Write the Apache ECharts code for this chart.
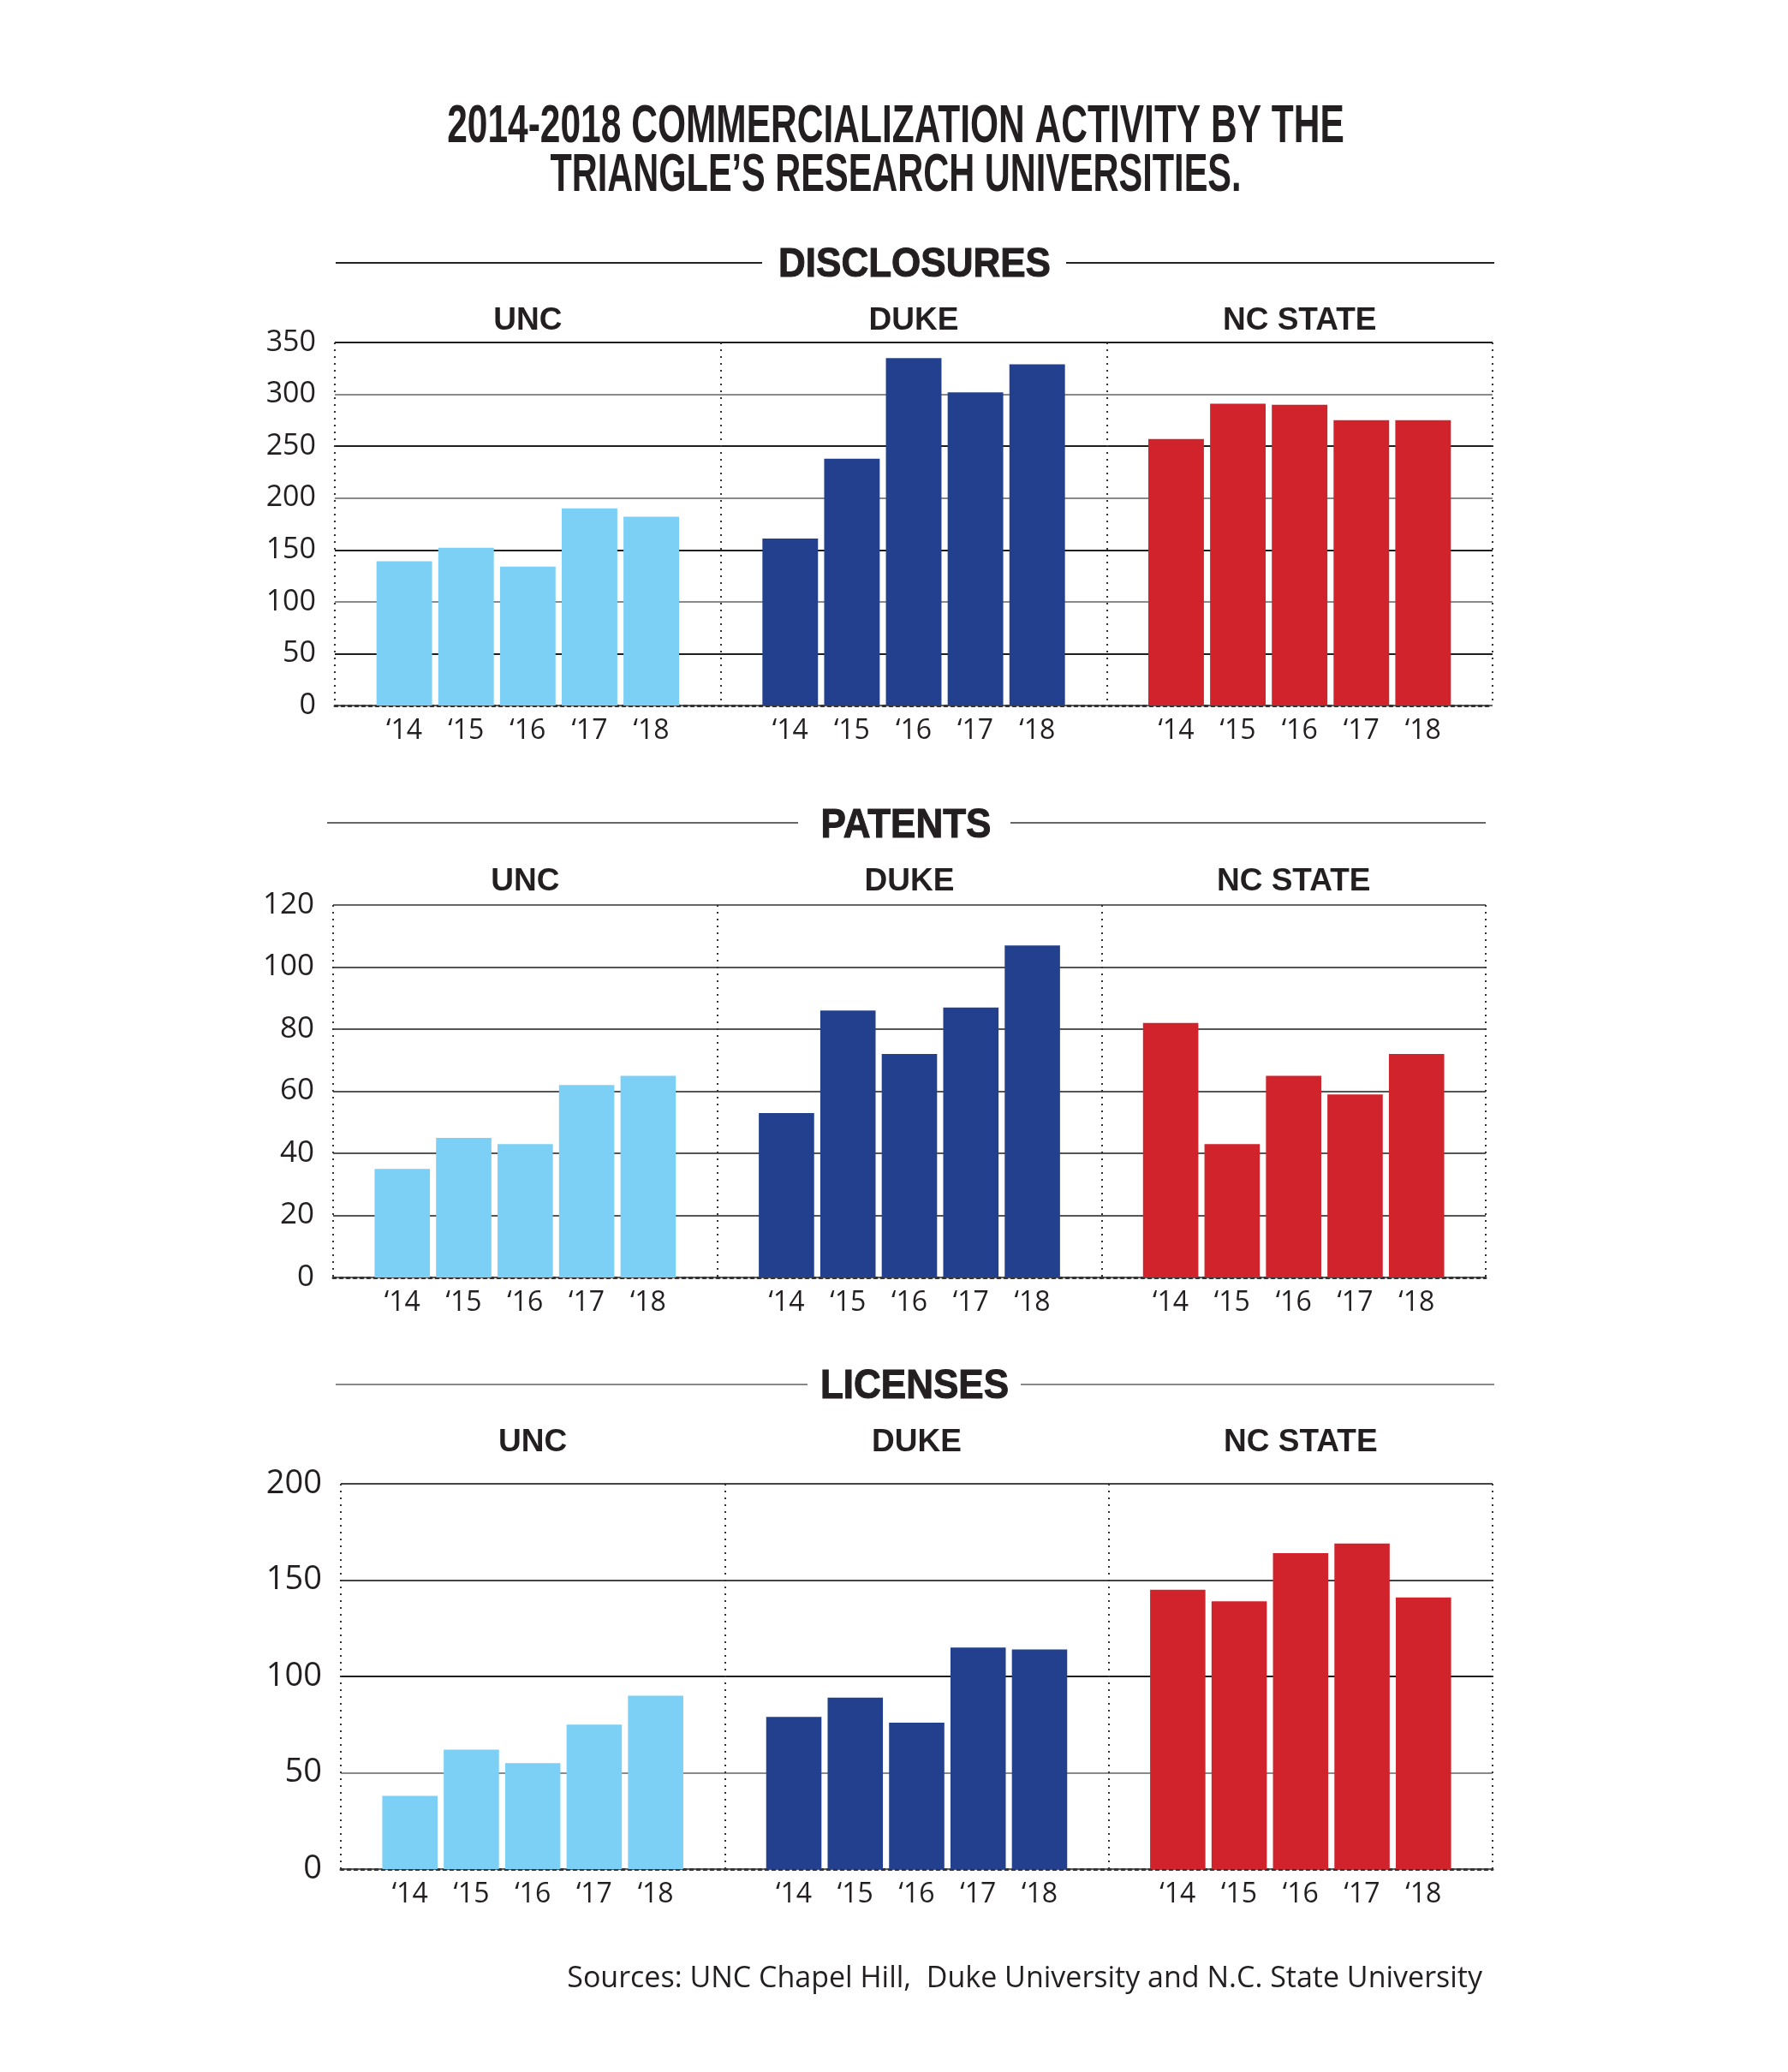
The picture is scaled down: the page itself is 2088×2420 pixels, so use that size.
<!DOCTYPE html>
<html>
<head>
<meta charset="utf-8">
<script src="https://cdn.jsdelivr.net/npm/echarts@6/dist/echarts.min.js"></script>
<style>
html,body{margin:0;padding:0;background:#fff;}
#chart{width:2088px;height:2420px;}
</style>
</head>
<body>
<div id="chart"></div>
<script>
// ---- Data ----
const years = ['\u201814', '\u201815', '\u201816', '\u201817', '\u201818'];
const universities = ['UNC', 'DUKE', 'NC STATE'];
const sections = ['DISCLOSURES', 'PATENTS', 'LICENSES'];

const disclosuresUNC = [139, 152, 134, 190, 182];
const disclosuresDuke = [161, 238, 335, 302, 329];
const disclosuresNCState = [257, 291, 290, 275, 275];

const patentsUNC = [35, 45, 43, 62, 65];
const patentsDuke = [53, 86, 72, 87, 107];
const patentsNCState = [82, 43, 65, 59, 72];

const licensesUNC = [38, 62, 55, 75, 90];
const licensesDuke = [79, 89, 76, 115, 114];
const licensesNCState = [145, 139, 164, 169, 141];

const disclosuresAxis = {max: 350, interval: 50};
const patentsAxis = {max: 120, interval: 20};
const licensesAxis = {max: 200, interval: 50};

const titleLines = ['2014-2018 COMMERCIALIZATION ACTIVITY BY THE', 'TRIANGLE\u2019S RESEARCH UNIVERSITIES.'];
const sourceText = 'Sources: UNC Chapel Hill,  Duke University and N.C. State University';

// ---- Layout / style ----
const uniColors = ['#7CD0F5', '#22408D', '#D1232B'];
const textColor = '#231f20';
const tickFont = 'Open Sans';
const headFont = 'Liberation Sans';

const charts = [
  {name: sections[0], data: [disclosuresUNC, disclosuresDuke, disclosuresNCState], axis: disclosuresAxis,
   left: 391, right: 1743, top: 400, bottom: 824, headY: 310, lineY: 307, lineL: 392, lineR: 1745,
   gapL: 890, gapR: 1245, headX: 1068, lineColor: '#222', subY: 375, yFont: 34,
   split: ['#666', '#1e1e1e', '#8a8a8a', '#1e1e1e', '#8a8a8a', '#1e1e1e', '#8a8a8a', '#1e1e1e']},
  {name: sections[1], data: [patentsUNC, patentsDuke, patentsNCState], axis: patentsAxis,
   left: 389, right: 1735, top: 1057, bottom: 1492, headY: 965, lineY: 961, lineL: 382, lineR: 1735,
   gapL: 932, gapR: 1180, headX: 1058, lineColor: '#666', subY: 1030, yFont: 35,
   split: ['#666', '#555', '#555', '#555', '#555', '#555', '#666']},
  {name: sections[2], data: [licensesUNC, licensesDuke, licensesNCState], axis: licensesAxis,
   left: 398, right: 1743, top: 1733, bottom: 2183, headY: 1620, lineY: 1617, lineL: 392, lineR: 1745,
   gapL: 943, gapR: 1192, headX: 1068, lineColor: '#888', subY: 1685, yFont: 38,
   split: ['#666', '#8a8a8a', '#1e1e1e', '#444', '#444']}
];

const grid = [], xAxis = [], yAxis = [], series = [], graphic = [];

titleLines.forEach((t, i) => {
  graphic.push({type: 'text', x: 1046, y: i === 0 ? 149 : 206, scaleX: i === 0 ? 0.85 : 0.83, scaleY: 1.25,
    style: {text: t, fill: textColor, font: 'bold 50px "' + headFont + '"', textAlign: 'center', textVerticalAlign: 'middle'}});
});

charts.forEach((c, ci) => {
  const W = c.right - c.left, H = c.bottom - c.top;
  const pw = W / 3;
  const mainIdx = grid.length;
  grid.push({left: c.left, top: c.top, width: W, height: H, outerBoundsMode: 'none', containLabel: false});
  xAxis.push({type: 'value', gridIndex: mainIdx, min: 0, max: 3, interval: 1,
    axisLabel: {show: false}, axisTick: {show: false},
    axisLine: {show: true, onZero: false, lineStyle: {type: [3, 5], width: 3, color: '#333'}},
    splitLine: {show: true, lineStyle: {type: [2, 6], width: 2, color: '#333'}}});
  yAxis.push({type: 'value', gridIndex: mainIdx, min: 0, max: c.axis.max, interval: c.axis.interval,
    axisLine: {show: false}, axisTick: {show: false},
    axisLabel: {fontSize: c.yFont, color: textColor, margin: 22, fontFamily: tickFont},
    splitLine: {show: true, lineStyle: {color: c.split, width: 2}}});

  for (let p = 0; p < 3; p++) {
    const gi = grid.length;
    grid.push({left: c.left + p * pw + pw * 0.1, top: c.top, width: pw * 0.8, height: H, outerBoundsMode: 'none', containLabel: false});
    xAxis.push({type: 'category', gridIndex: gi, data: years,
      axisLine: {show: false}, axisTick: {show: false}, splitLine: {show: false},
      axisLabel: {fontSize: 32, color: textColor, margin: 14, fontFamily: tickFont}});
    yAxis.push({type: 'value', gridIndex: gi, min: 0, max: c.axis.max, show: false});
    series.push({type: 'bar', xAxisIndex: gi, yAxisIndex: gi, data: c.data[p],
      barCategoryGap: '10%', itemStyle: {color: uniColors[p]}, z: 3});
    graphic.push({type: 'text', x: c.left + p * pw + pw / 2, y: c.subY,
      style: {text: universities[p], fill: textColor, font: 'bold 37px "' + headFont + '"', textAlign: 'center', textVerticalAlign: 'middle'}});
  }
  graphic.push({type: 'line', shape: {x1: c.lineL, y1: c.lineY, x2: c.gapL, y2: c.lineY}, style: {stroke: c.lineColor, lineWidth: 2}});
  graphic.push({type: 'line', shape: {x1: c.gapR, y1: c.lineY, x2: c.lineR, y2: c.lineY}, style: {stroke: c.lineColor, lineWidth: 2}});
  graphic.push({type: 'text', x: c.headX, y: c.headY, scaleY: 1.08,
    style: {text: c.name, fill: textColor, font: 'bold 44px "' + headFont + '"', textAlign: 'center', textVerticalAlign: 'middle', stroke: textColor, lineWidth: 1}});
});

graphic.push({type: 'text', x: 1731, y: 2311,
  style: {text: sourceText, fill: textColor, font: '34px "Open Sans"', textAlign: 'right', textVerticalAlign: 'middle'}});

const chart = echarts.init(document.getElementById('chart'), null, {renderer: 'canvas'});
chart.setOption({
  backgroundColor: '#ffffff',
  animation: false,
  grid, xAxis, yAxis, series, graphic
});
</script>
</body>
</html>
